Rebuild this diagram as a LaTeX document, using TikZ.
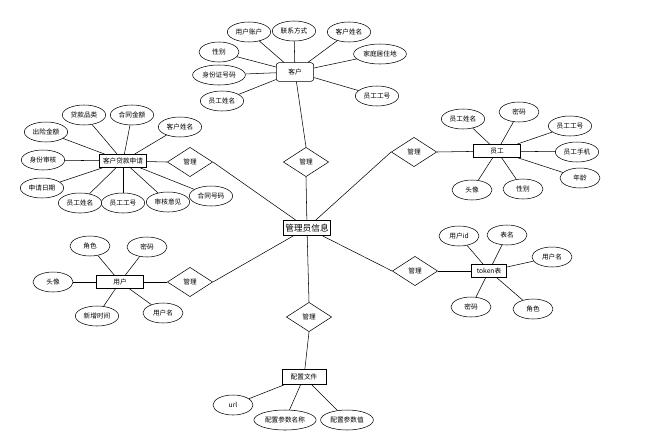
\documentclass[tikz,border=0pt]{standalone}
\usepackage{fontspec}
\setmainfont{Noto Sans CJK SC}
\usepackage{tikz}
\usetikzlibrary{shapes.geometric}
\tikzset{
	attr/.style={draw, ellipse, fill=white, inner sep=1.5pt, minimum width=30pt,
		minimum height=15pt, font=\fontsize{5}{6}\selectfont},
	ent/.style={draw, rectangle, fill=white, inner sep=1pt, minimum width=35pt,
		minimum height=9.5pt, font=\fontsize{5}{6}\selectfont},
	rel/.style={draw, diamond, fill=white, inner sep=0pt, aspect=1.5,
		minimum width=34pt, minimum height=22pt, font=\fontsize{5}{6}\selectfont},
	hubbox/.style={draw, rectangle, fill=white, line width=0.9pt, inner sep=1pt,
		minimum width=35pt, minimum height=11pt, font=\fontsize{6.5}{7}\selectfont},
}

\begin{document}
\begin{tikzpicture}[x=0.75pt, y=-0.75pt]
		\useasboundingbox (0,0) rectangle (657,440);
		% centre
		\node[hubbox] at (307,228) (hub) {管理员信息};
		% 客户
		\node[ent, rounded corners=2pt, minimum width=28pt, minimum height=14pt] at (295,72) (kehu) {客户};
		\node[attr] at (249,32) (k1) {用户账户};
		\node[attr] at (294,31) (k2) {联系方式};
		\node[attr] at (349,32) (k3) {客户姓名};
		\node[attr] at (380,54) (k4) {家庭居住地};
		\node[attr] at (377,96) (k5) {员工工号};
		\node[attr] at (219,52) (k6) {性别};
		\node[attr] at (219,75) (k7) {身份证号码};
		\node[attr] at (222,101) (k8) {员工姓名};
		\node[rel] at (306,162) (r1) {管理};
		% 客户贷款申请
		\node[ent, line width=0.8pt] at (123,161) (daikuan) {客户贷款申请};
		\node[attr] at (84,115) (d1) {贷款品类};
		\node[attr] at (132,115) (d2) {合同金额};
		\node[attr] at (180,127) (d3) {客户姓名};
		\node[attr] at (46,132) (d4) {出险金额};
		\node[attr] at (43,160) (d5) {身份审核};
		\node[attr] at (42,188) (d6) {申请日期};
		\node[attr] at (80,203) (d7) {员工姓名};
		\node[attr] at (123,203) (d8) {员工工号};
		\node[attr] at (168,202) (d9) {审核意见};
		\node[attr] at (211,196) (d10) {合同号码};
		\node[rel] at (190,162) (r2) {管理};
		% 员工
		\node[ent] at (497,151) (yuangong) {员工};
		\node[attr] at (463,119) (y1) {员工姓名};
		\node[attr] at (519,112) (y2) {密码};
		\node[attr] at (570,126) (y3) {员工工号};
		\node[attr] at (577,152) (y4) {员工手机};
		\node[attr] at (580,178) (y5) {年龄};
		\node[attr] at (472,190) (y6) {头像};
		\node[attr] at (523,189) (y7) {性别};
		\node[rel] at (414,152) (r3) {管理};
		% 用户
		\node[ent] at (120,282) (yonghu) {用户};
		\node[attr] at (90,246) (u1) {角色};
		\node[attr] at (147,247) (u2) {密码};
		\node[attr] at (53,282) (u3) {头像};
		\node[attr] at (97,316) (u4) {新增时间};
		\node[attr] at (163,313) (u5) {用户名};
		\node[rel] at (190,282) (r4) {管理};
		% token表
		\node[ent, minimum width=26pt] at (489,271) (token) {token表};
		\node[attr] at (459,236) (t1) {用户id};
		\node[attr] at (507,235) (t2) {表名};
		\node[attr] at (552,257) (t3) {用户名};
		\node[attr] at (471,307) (t4) {密码};
		\node[attr] at (533,309) (t5) {角色};
		\node[rel] at (415,271) (r5) {管理};
		% 配置文件
		\node[ent, minimum width=33pt, minimum height=11pt] at (304,377) (peizhi) {配置文件};
		\node[attr] at (233,405) (p1) {url};
		\node[attr] at (285,420) (p2) {配置参数名称};
		\node[attr] at (347,420) (p3) {配置参数值};
		\node[rel] at (309,317) (r6) {管理};
		% attribute lines
		\foreach \a in {k1,k2,k3,k4,k5,k6,k7,k8} \draw (\a) -- (kehu);
		\foreach \a in {d1,d2,d3,d4,d5,d6,d7,d8,d9,d10} \draw (\a) -- (daikuan);
		\foreach \a in {y1,y2,y3,y4,y5,y6,y7} \draw (\a) -- (yuangong);
		\foreach \a in {u1,u2,u3,u4,u5} \draw (\a) -- (yonghu);
		\foreach \a in {t1,t2,t3,t4,t5} \draw (\a) -- (token);
		\foreach \a in {p1,p2,p3} \draw (\a) -- (peizhi);
		% relations
		\draw (kehu) -- (r1.north);
		\draw (r1.south) -- (hub);
		\draw (daikuan) -- (r2.west);
		\draw (r2.east) -- (hub);
		\draw (yuangong) -- (r3.east);
		\draw (r3.west) -- (hub);
		\draw (yonghu) -- (r4.west);
		\draw (r4.east) -- (hub);
		\draw (token) -- (r5.east);
		\draw (r5.west) -- (hub);
		\draw (hub) -- (r6.north);
		\draw (r6.south) -- (peizhi);
\end{tikzpicture}
\end{document}
